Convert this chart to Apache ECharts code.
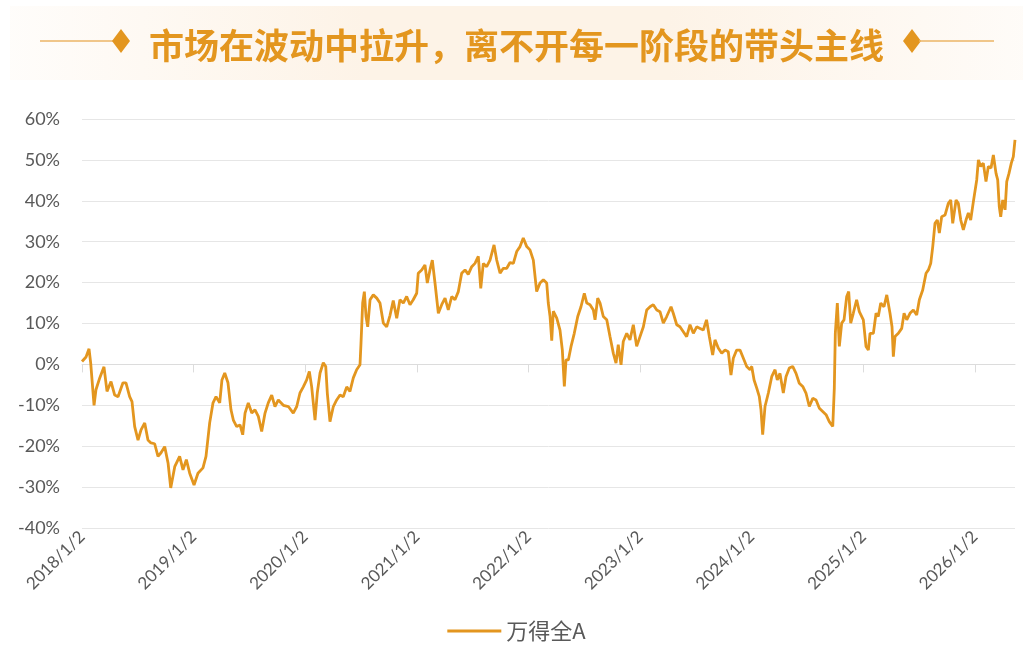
<!DOCTYPE html>
<html>
<head>
<meta charset="utf-8">
<script src="https://cdn.jsdelivr.net/npm/echarts@6/dist/echarts.min.js"></script>
<style>
  html, body { margin: 0; padding: 0; background: #fff; }
  #chart { width: 1033px; height: 657px; }
</style>
</head>
<body>
<div id="chart"></div>
<script>
// years since 2018/1/2
const yearPos = [
  0,0.036,0.063,0.078,0.108,0.125,0.159,0.197,0.224,0.260,
  0.293,0.323,0.367,0.394,0.427,0.448,0.472,0.502,0.529,0.562,
  0.591,0.618,0.651,0.681,0.708,0.741,0.771,0.795,0.831,0.875,
  0.905,0.935,0.965,1.004,1.039,1.084,1.111,1.144,1.174,1.201,
  1.234,1.254,1.279,1.308,1.335,1.356,1.386,1.416,1.440,1.461,
  1.490,1.521,1.550,1.580,1.610,1.640,1.669,1.700,1.729,1.759,
  1.804,1.849,1.893,1.924,1.953,1.983,2.013,2.037,2.058,2.088,
  2.108,2.133,2.162,2.184,2.198,2.222,2.252,2.282,2.312,2.341,
  2.372,2.401,2.431,2.461,2.491,2.500,2.515,2.530,2.545,2.560,
  2.581,2.610,2.641,2.670,2.700,2.730,2.760,2.789,2.820,2.849,
  2.879,2.909,2.939,2.968,2.999,3.013,3.044,3.073,3.094,3.118,
  3.139,3.163,3.193,3.223,3.253,3.282,3.313,3.342,3.372,3.402,
  3.432,3.461,3.492,3.521,3.551,3.573,3.596,3.626,3.656,3.692,
  3.716,3.746,3.775,3.806,3.835,3.865,3.895,3.925,3.954,3.985,
  4.014,4.044,4.074,4.104,4.134,4.164,4.178,4.194,4.209,4.223,
  4.254,4.283,4.304,4.322,4.337,4.358,4.382,4.411,4.442,4.471,
  4.501,4.523,4.552,4.582,4.597,4.621,4.642,4.671,4.702,4.731,
  4.761,4.785,4.805,4.830,4.850,4.881,4.910,4.940,4.970,5.000,
  5.030,5.060,5.090,5.119,5.150,5.179,5.209,5.239,5.278,5.298,
  5.329,5.358,5.388,5.418,5.448,5.478,5.508,5.538,5.567,5.596,
  5.621,5.651,5.672,5.701,5.732,5.762,5.791,5.815,5.836,5.866,
  5.896,5.926,5.956,5.986,6.001,6.022,6.046,6.069,6.084,6.099,
  6.120,6.150,6.180,6.210,6.230,6.254,6.284,6.308,6.338,6.368,
  6.398,6.427,6.458,6.487,6.517,6.548,6.577,6.607,6.637,6.667,
  6.696,6.727,6.741,6.750,6.768,6.786,6.807,6.828,6.852,6.870,
  6.888,6.911,6.941,6.965,7.001,7.025,7.046,7.061,7.091,7.115,
  7.135,7.157,7.186,7.211,7.240,7.258,7.270,7.285,7.315,7.345,
  7.366,7.390,7.419,7.449,7.479,7.503,7.533,7.563,7.584,7.605,
  7.623,7.643,7.664,7.682,7.703,7.733,7.763,7.784,7.802,7.832,
  7.852,7.874,7.897,7.921,7.942,7.963,7.987,8.017,8.032,8.053,
  8.076,8.100,8.121,8.145,8.166,8.190,8.205,8.219,8.232,8.250,
  8.271,8.286,8.306,8.327,8.345,8.360
];

// 万得全A cumulative return, %
const wandeA = [
  0.7,1.8,3.8,0.3,-10,-6.2,-3.3,-0.6,-6.6,-4.2,
  -7.5,-7.9,-4.5,-4.5,-7.9,-9.1,-15.2,-18.5,-16,-14.3,
  -18.5,-19.2,-19.4,-22.5,-21.6,-20.1,-24.1,-30.2,-25,-22.5,
  -25.8,-23.3,-26.6,-29.5,-26.6,-25.3,-22.5,-14.3,-9.4,-7.9,
  -9.4,-3.8,-2.1,-4.5,-11.1,-13.6,-15.2,-14.8,-17.2,-11.9,
  -9.4,-11.9,-11.1,-12.7,-16.4,-11.9,-9.4,-7.5,-10.3,-8.7,
  -10,-10.3,-11.9,-10.3,-7,-5.5,-3.8,-1.7,-5.5,-13.6,
  -7,-2.1,0.4,-0.5,-7,-14,-10.3,-8.7,-7.5,-7.9,
  -5.5,-6.6,-3.3,-1.3,-0.1,5.2,15,17.8,11.7,9.2,
  15.8,17,16.2,15,10.1,9.2,12,15.6,11.3,15.8,
  15,16.6,14.6,15.8,17.4,22.3,23.1,24.3,19.9,23.1,
  25.5,19.9,12.5,14.6,16.2,13.3,16.6,15.8,17.8,22.3,
  23.1,22,23.9,24.7,26.4,18.6,24.7,23.9,25.5,29.2,
  25.5,22.3,23.5,23.5,24.9,24.7,27.6,28.8,30.9,28.8,
  28,25.5,17.8,19.9,20.7,19.9,15,11.7,5.8,13,
  11.3,8.4,3.5,-5.4,1.1,1.1,4.4,7.6,11.7,14.1,
  17.4,15,14.6,13.3,10.9,16.2,15,11.7,10.9,6.8,
  2.7,0.3,4.8,-0.1,5.6,7.6,6,9.7,4.4,6.8,
  9.2,13.3,14.1,14.6,13.3,12.9,10.1,11.7,14.1,12.5,
  9.7,9.2,8,6.8,9.7,7.6,9.2,8.8,8.4,10.9,
  6.8,2.3,6,4,2.7,3.5,3.1,-2.6,1.5,3.5,
  3.5,1.5,-0.5,-1.3,-0.5,-3.8,-5.8,-7.9,-11.1,-17.2,
  -10.3,-7,-3,-1.3,-3.8,-2.2,-7,-3,-0.9,-0.5,
  -2.2,-4.6,-5.4,-7,-10.3,-8.3,-8.7,-10.7,-11.5,-12.3,
  -14,-15.2,-5.8,7.6,15,4.4,10.1,10.9,16.6,17.8,
  10.1,12.5,15.8,12.9,10.9,4.4,3.5,7.6,7.6,12.5,
  11.7,15,14.1,17,12.5,9.2,1.9,6.8,7.6,8.8,
  12.5,10.9,12.5,13.3,12.1,15.8,18.2,22.3,23.1,24.7,
  28.8,34.5,35.3,32.1,36.1,36.5,39.4,40.2,34.5,40.2,
  39.4,35.3,32.9,35.3,37,35.3,39.8,45.1,50,48.4,
  49.2,44.7,48.4,48,51.2,46.7,45.1,38.6,36.1,40.2,
  37.8,44.7,46.7,49.2,50.8,54.9
];

const yearTicks = [0, 1, 2, 3, 4, 5, 6, 7, 8];
const startYear = 2018;
const titleText = '市场在波动中拉升，离不开每一阶段的带头主线';
const seriesName = '万得全A';

const orange = '#E3961F';
const chart = echarts.init(document.getElementById('chart'));

const lineData = yearPos.map((t, i) => [t, wandeA[i]]);

const option = {
  animation: false,
  backgroundColor: '#fff',
  title: {
    text: titleText,
    left: 'center',
    top: 23,
    textStyle: {
      fontFamily: 'Noto Sans CJK SC',
      fontSize: 35,
      fontWeight: 'bold',
      color: orange
    }
  },
  graphic: [
    {
      type: 'rect', z: -10, silent: true,
      shape: { x: 10, y: 6, width: 1013, height: 74 },
      style: {
        fill: new echarts.graphic.LinearGradient(0, 0, 1, 0, [
          { offset: 0, color: 'rgba(253,243,231,0.2)' },
          { offset: 0.35, color: 'rgba(253,243,231,1)' },
          { offset: 0.65, color: 'rgba(253,243,231,1)' },
          { offset: 1, color: 'rgba(253,243,231,0.3)' }
        ])
      }
    },
    { type: 'line', shape: { x1: 40, y1: 41, x2: 114, y2: 41 }, style: { stroke: '#EBB466', lineWidth: 1.5 } },
    { type: 'polygon', shape: { points: [[121, 29], [130, 41], [121, 53], [112, 41]] }, style: { fill: orange } },
    { type: 'polygon', shape: { points: [[912, 29], [921, 41], [912, 53], [903, 41]] }, style: { fill: orange } },
    { type: 'line', shape: { x1: 919, y1: 41, x2: 994, y2: 41 }, style: { stroke: '#EBB466', lineWidth: 1.5 } }
  ],
  legend: {
    bottom: 10,
    left: 'center',
    icon: 'rect',
    itemWidth: 54,
    itemHeight: 3,
    itemGap: 10,
    textStyle: { fontSize: 22, color: '#595959', fontFamily: 'Noto Sans CJK SC' },
    data: [seriesName]
  },
  grid: { left: 82, right: 18, top: 119, bottom: 129 },
  xAxis: [
    {
      type: 'value',
      min: 0,
      max: 8.36,
      position: 'bottom',
      axisLine: { show: false, onZero: false },
      axisTick: { show: false },
      splitLine: { show: false },
      axisLabel: {
        customValues: yearTicks,
        rotate: 45,
        margin: 6,
        fontSize: 17,
        color: '#595959',
        fontFamily: 'Lato',
        formatter: v => (startYear + Math.round(v)) + '/1/2'
      }
    },
    {
      type: 'value',
      min: 0,
      max: 8.36,
      position: 'bottom',
      axisLine: { show: true, onZero: true, lineStyle: { color: '#dcdcdc', width: 1 } },
      axisTick: { show: true, customValues: yearTicks, length: 8, lineStyle: { color: '#dcdcdc' } },
      splitLine: { show: false },
      axisLabel: { show: false }
    }
  ],
  yAxis: {
    type: 'value',
    min: -40,
    max: 60,
    interval: 10,
    axisLine: { show: false },
    axisTick: { show: false },
    splitLine: { lineStyle: { color: '#e6e6e6', width: 1 } },
    axisLabel: {
      formatter: '{value}%',
      fontSize: 18,
      color: '#595959',
      fontFamily: 'Lato',
      margin: 22
    }
  },
  series: [
    {
      name: seriesName,
      type: 'line',
      data: lineData,
      showSymbol: false,
      symbol: 'none',
      color: orange,
      lineStyle: { width: 2.8, color: orange }
    }
  ]
};

chart.setOption(option);
</script>
</body>
</html>
